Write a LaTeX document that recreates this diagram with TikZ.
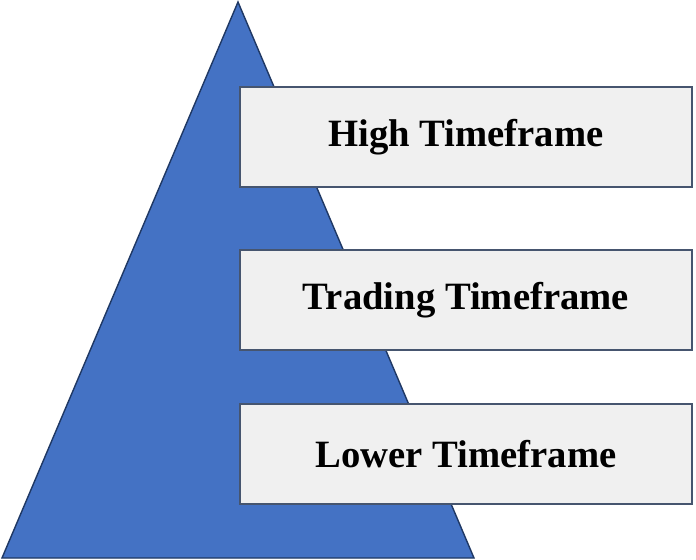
\documentclass[tikz,border=0pt]{standalone}
\usepackage{fontspec}
\setmainfont{Liberation Serif}
\definecolor{pyrblue}{HTML}{4472C4}
\definecolor{pyredge}{HTML}{1F3864}
\definecolor{boxfill}{HTML}{F0F0F0}
\begin{document}
\begin{tikzpicture}[x=0.03cm,y=-0.03cm,inner sep=0pt,outer sep=0pt,
tfbox/.style={draw=pyredge!60!gray,fill=boxfill,line width=1pt,rectangle,minimum width=13.56cm,minimum height=3.0cm,anchor=north west,font=\fontsize{33}{40}\selectfont\bfseries}]
\useasboundingbox (0,0) rectangle (696,560);
\draw[fill=pyrblue,draw=pyredge,line width=1.2pt] (238,2) -- (474,558) -- (2,558) -- cycle;
\node[tfbox] (high) at (240,87) {High Timeframe};
\node[tfbox] (trade) at (240,250) {Trading Timeframe};
\node[tfbox] (low) at (240,404) {Lower Timeframe};
\end{tikzpicture}
\end{document}
